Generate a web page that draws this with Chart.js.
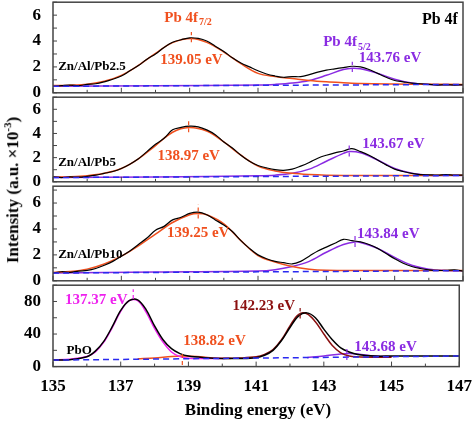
<!DOCTYPE html>
<html>
<head>
<meta charset="utf-8">
<script src="https://cdn.jsdelivr.net/npm/chart.js@4.4.0/dist/chart.umd.min.js"></script>
<style>
  body { margin: 0; background: #fff; width: 474px; height: 423px; position: relative; overflow: hidden; font-family: "Liberation Serif", serif; }
  canvas { position: absolute; left: 0; }
  #ytitle { position: absolute; left: 12px; top: 190px; transform: translate(-50%, -50%) rotate(-90deg); font-weight: bold; font-size: 17px; white-space: nowrap; }
  #xtitle { position: absolute; left: 258px; top: 400px; transform: translateX(-50%); font-weight: bold; font-size: 17px; white-space: nowrap; }
</style>
</head>
<body>
<canvas id="p1"></canvas>
<canvas id="p2"></canvas>
<canvas id="p3"></canvas>
<canvas id="p4"></canvas>
<div id="ytitle">Intensity (a.u. ×10<sup style="font-size:11px">-3</sup>)</div>
<div id="xtitle">Binding energy (eV)</div>
<script>
// binding energy grid for the measured spectra
const energyFine = [135,135.25,135.5,135.75,136,136.25,136.5,136.75,137,137.25,137.5,137.75,138,138.25,138.5,138.75,139,139.25,139.5,139.75,140,140.25,140.5,140.75,141,141.25,141.5,141.75,142,142.25,142.5,142.75,143,143.25,143.5,143.75,144,144.25,144.5,144.75,145,145.25,145.5,145.75,146,146.25,146.5,146.75,147];

// Zn/Al/Pb2.5
const rawPb25 = [0.5,0.55,0.6,0.55,0.65,0.7,0.85,1.05,1.3,1.7,2.1,2.6,3.0,3.5,3.9,4.1,4.25,4.2,4.0,3.6,3.2,2.7,2.3,2.0,1.7,1.45,1.3,1.2,1.25,1.25,1.4,1.6,1.75,1.85,1.95,2.05,2.0,1.8,1.5,1.2,0.95,0.85,0.75,0.7,0.65,0.6,0.62,0.6,0.62];
const fit72Pb25 = [[135,0.56],[135.5,0.59],[136,0.67],[136.5,0.89],[137,1.35],[137.5,2.12],[138,3.05],[138.5,3.88],[139.05,4.2],[139.5,3.9],[140,3.15],[140.5,2.25],[141,1.5],[141.5,1.25],[142,1.1],[142.5,0.95],[143,0.85],[143.5,0.78],[144,0.72],[145,0.68],[146,0.66],[147,0.65]];
const fit52Pb25 = [[135,0.5],[138,0.54],[141,0.6],[141.5,0.65],[142,0.75],[142.5,0.95],[143,1.35],[143.5,1.8],[143.76,1.9],[144,1.85],[144.5,1.5],[145,1.05],[145.5,0.75],[146,0.65],[146.5,0.62],[147,0.62]];
const basePb25 = [[135,0.5],[147,0.65]];

// Zn/Al/Pb5
const rawPb5 = [0.4,0.35,0.4,0.38,0.45,0.55,0.7,0.85,1.1,1.45,1.9,2.5,3.1,3.6,4.3,4.5,4.6,4.55,4.3,3.9,3.3,2.8,2.2,1.7,1.35,1.15,1.0,0.95,1.05,1.3,1.6,1.95,2.2,2.4,2.55,2.75,2.5,2.2,1.8,1.4,1.05,0.85,0.7,0.6,0.58,0.55,0.6,0.55,0.55];
const fit72Pb5 = [[135,0.4],[135.5,0.42],[136,0.5],[136.5,0.7],[137,1.1],[137.5,1.9],[138,3.0],[138.5,4.1],[138.97,4.5],[139.5,4.2],[140,3.3],[140.5,2.2],[141,1.3],[141.5,0.9],[142,0.7],[142.5,0.6],[143,0.55],[144,0.52],[145,0.52],[146,0.53],[147,0.55]];
const fit52Pb5 = [[135,0.35],[138,0.4],[141,0.5],[141.5,0.55],[142,0.7],[142.5,1.05],[143,1.7],[143.5,2.35],[143.67,2.5],[144,2.4],[144.5,1.8],[145,1.1],[145.5,0.7],[146,0.55],[146.5,0.52],[147,0.52]];
const basePb5 = [[135,0.35],[147,0.52]];

// Zn/Al/Pb10
const rawPb10 = [0.6,0.7,0.65,0.75,0.8,0.95,1.2,1.5,1.9,2.3,2.8,3.3,3.9,4.2,4.7,4.9,5.2,5.3,5.1,4.7,4.3,3.8,3.1,2.5,2.0,1.7,1.5,1.4,1.3,1.5,1.9,2.3,2.6,2.9,3.2,3.1,3.0,2.8,2.5,2.1,1.7,1.35,1.1,0.95,0.85,0.8,0.8,0.85,0.75];
const fit72Pb10 = [[135,0.65],[135.5,0.72],[136,0.9],[136.5,1.3],[137,1.9],[137.5,2.7],[138,3.6],[138.5,4.5],[139,5.1],[139.25,5.2],[139.5,5.1],[140,4.4],[140.5,3.1],[141,1.95],[141.5,1.45],[142,1.1],[142.5,0.9],[143,0.82],[144,0.8],[145,0.8],[146,0.8],[147,0.8]];
const fit52Pb10 = [[135,0.6],[138,0.67],[141,0.75],[141.5,0.85],[142,1.1],[142.5,1.5],[143,2.2],[143.5,2.8],[143.84,3.0],[144,2.95],[144.5,2.5],[145,1.8],[145.5,1.2],[146,0.9],[146.5,0.8],[147,0.78]];
const basePb10 = [[135,0.6],[147,0.78]];

// PbO
const rawPbO = [[135,8],[135.5,8.5],[136,12],[136.25,19],[136.5,31],[136.75,49],[137,69],[137.25,81],[137.5,82],[137.75,70],[138,50],[138.25,33],[138.5,22],[138.75,16],[139,13],[139.5,11],[140,10],[140.5,10],[141,11],[141.25,14],[141.5,20],[141.75,32],[142,48],[142.25,62],[142.5,66],[142.75,60],[143,46],[143.25,33],[143.5,23],[143.75,18],[144,15],[144.5,13],[145,13],[146,13],[147,13]];
const fitPbO1 = [[135,8.5],[135.5,9],[136,12.3],[136.25,18],[136.5,30],[136.75,48],[137,68],[137.25,81],[137.5,81],[137.75,67],[138,47],[138.25,30],[138.5,18],[138.75,12.2],[139,10.3],[139.5,10],[140,10]];
const fitPbO2 = [[137.5,9.5],[138,10.5],[138.5,12.5],[138.82,13],[139.25,12.5],[139.75,10.5],[140.25,10]];
const fitPbO3 = [[140,10],[140.5,10.5],[141,12],[141.25,15],[141.5,21],[141.75,33],[142,50],[142.25,64],[142.5,65],[142.75,55],[143,40],[143.25,26],[143.5,17],[143.75,13],[144,12],[144.5,11.5],[145,11.5]];
const fitPbO4 = [[142.5,11],[143,13],[143.5,15.5],[143.75,16],[144,15.5],[144.5,13],[145,12]];
const basePbO = [[135,8],[147,13]];

const xTicks = [135,137,139,141,143,145,147];

const ORANGE = '#f0501e', PURPLE = '#8a2be2', BLUE = '#2a2af0', MAGENTA = '#ee22ee', DARKRED = '#8b1010';
const labelFont = 'bold 15px "Liberation Serif"';
const PAD = 12;

function pairs(arr) { return arr.map(p => ({ x: p[0], y: p[1] })); }
function fine(ys) { return ys.map((y, i) => ({ x: energyFine[i], y: y })); }

function line(data, color, width, dash) {
    return { data: data, borderColor: color, borderWidth: width, borderDash: dash || [], pointRadius: 0, tension: 0.35, fill: false };
}

// frame, inward ticks, peak marks and labels
const decor = {
    id: 'decor',
    afterDatasetsDraw(chart, args, opts) {
        const { ctx, chartArea: a, scales: { x, y } } = chart;
        ctx.save();
        ctx.strokeStyle = '#444';
        ctx.lineWidth = 1.5;
        ctx.strokeRect(a.left, a.top, a.right - a.left, a.bottom - a.top);
        ctx.lineWidth = 1;
        for (let e = 135; e <= 147; e++) {
            const px = x.getPixelForValue(e);
            const len = e % 2 ? 5 : 3;
            ctx.beginPath(); ctx.moveTo(px, a.bottom); ctx.lineTo(px, a.bottom - len); ctx.stroke();
        }
        for (let v = 0; v <= y.max; v += opts.yMinor) {
            const py = y.getPixelForValue(v);
            ctx.beginPath(); ctx.moveTo(a.left, py); ctx.lineTo(a.left + 4, py); ctx.stroke();
        }
        (opts.marks || []).forEach(m => {
            const px = x.getPixelForValue(m.x);
            ctx.strokeStyle = m.color; ctx.lineWidth = 1.2; ctx.setLineDash([4, 3]);
            ctx.beginPath(); ctx.moveTo(px, y.getPixelForValue(m.y0)); ctx.lineTo(px, y.getPixelForValue(m.y1)); ctx.stroke();
            ctx.setLineDash([]);
        });
        (opts.labels || []).forEach(l => {
            const px = x.getPixelForValue(l.x);
            const py = y.getPixelForValue(l.y);
            ctx.fillStyle = l.color || '#000';
            ctx.font = l.font || labelFont;
            ctx.textAlign = l.align || 'center';
            ctx.textBaseline = 'middle';
            ctx.fillText(l.text, px, py);
            if (l.sub) {
                const w = ctx.measureText(l.text).width;
                const start = l.align === 'left' ? px + w : px + w / 2;
                ctx.font = 'bold 10px "Liberation Serif"';
                ctx.textAlign = 'left';
                ctx.fillText(l.sub, start + 1, py + 5);
            }
        });
        ctx.restore();
    }
};

// panelTop/panelHeight give the plot box in page pixels
function makePanel(id, panelTop, panelHeight, yMax, yStep, datasets, deco, showX) {
    const c = document.getElementById(id);
    const bottomPad = showX ? 0 : PAD;
    const height = panelHeight + PAD + (showX ? 26 : PAD);
    c.width = 474; c.height = height;
    c.style.width = '474px'; c.style.height = height + 'px';
    c.style.top = (panelTop - PAD) + 'px';
    new Chart(c, {
        type: 'line',
        data: { datasets: datasets },
        options: {
            responsive: false, animation: false,
            layout: { padding: { top: PAD, right: 11, bottom: bottomPad, left: 0 } },
            plugins: { legend: { display: false }, tooltip: { enabled: false }, decor: deco },
            scales: {
                x: {
                    type: 'linear', min: 135, max: 147, display: showX,
                    grid: { display: false }, border: { display: false },
                    afterBuildTicks: ax => { ax.ticks = xTicks.map(v => ({ value: v })); },
                    ticks: { color: '#000', font: { family: 'Liberation Serif', weight: 'bold', size: 17 }, padding: 2, maxRotation: 0 }
                },
                y: {
                    min: 0, max: yMax,
                    grid: { display: false }, border: { display: false },
                    afterBuildTicks: ax => { const t = []; for (let v = 0; v <= yMax; v += yStep) t.push({ value: v }); ax.ticks = t; },
                    afterFit: ax => { ax.width = 53; },
                    ticks: { color: '#000', font: { family: 'Liberation Serif', weight: 'bold', size: 17 }, padding: 4 }
                }
            }
        },
        plugins: [decor]
    });
}

makePanel('p1', 0, 95, 7.0, 2, [
    line(pairs(basePb25), BLUE, 1.5, [6, 4]),
    line(fine(rawPb25), '#000', 1.2),
    line(pairs(fit72Pb25), ORANGE, 1.5),
    line(pairs(fit52Pb25), PURPLE, 1.5)
], {
    yMinor: 1,
    marks: [{ x: 139.05, y0: 3.9, y1: 4.7, color: ORANGE }, { x: 143.76, y0: 1.6, y1: 2.4, color: PURPLE }],
    labels: [
        { x: 138.75, y: 5.8, text: 'Pb 4f', sub: '7/2', color: ORANGE },
        { x: 143.4, y: 3.9, text: 'Pb 4f', sub: '5/2', color: PURPLE },
        { x: 139.05, y: 2.5, text: '139.05 eV', color: ORANGE },
        { x: 143.95, y: 2.65, text: '143.76 eV', color: PURPLE, align: 'left' },
        { x: 135.15, y: 2.0, text: 'Zn/Al/Pb2.5', align: 'left', font: 'bold 13px "Liberation Serif"' },
        { x: 146.85, y: 5.6, text: 'Pb 4f', align: 'right', font: 'bold 16px "Liberation Serif"' }
    ]
}, false);

makePanel('p2', 95, 89, 7.0, 2, [
    line(pairs(basePb5), BLUE, 1.5, [6, 4]),
    line(fine(rawPb5), '#000', 1.2),
    line(pairs(fit72Pb5), ORANGE, 1.5),
    line(pairs(fit52Pb5), PURPLE, 1.5)
], {
    yMinor: 1,
    marks: [{ x: 138.97, y0: 4.1, y1: 5.0, color: ORANGE }, { x: 143.67, y0: 2.1, y1: 3.2, color: PURPLE }],
    labels: [
        { x: 138.97, y: 2.1, text: '138.97 eV', color: ORANGE },
        { x: 144.05, y: 3.1, text: '143.67 eV', color: PURPLE, align: 'left' },
        { x: 135.15, y: 1.6, text: 'Zn/Al/Pb5', align: 'left', font: 'bold 13px "Liberation Serif"' }
    ]
}, false);

makePanel('p3', 184, 99, 7.3, 2, [
    line(pairs(basePb10), BLUE, 1.5, [6, 4]),
    line(fine(rawPb10), '#000', 1.2),
    line(pairs(fit72Pb10), ORANGE, 1.5),
    line(pairs(fit52Pb10), PURPLE, 1.5)
], {
    yMinor: 1,
    marks: [{ x: 139.25, y0: 4.8, y1: 5.9, color: ORANGE }, { x: 143.84, y0: 2.6, y1: 3.6, color: PURPLE }],
    labels: [
        { x: 139.25, y: 3.7, text: '139.25 eV', color: ORANGE },
        { x: 143.9, y: 3.6, text: '143.84 eV', color: PURPLE, align: 'left' },
        { x: 135.15, y: 2.0, text: 'Zn/Al/Pb10', align: 'left', font: 'bold 13px "Liberation Serif"' }
    ]
}, false);

makePanel('p4', 283, 90, 100, 40, [
    line(pairs(basePbO), BLUE, 1.5, [6, 4]),
    line(pairs(rawPbO), '#000', 1.5),
    line(pairs(fitPbO1), MAGENTA, 1.5),
    line(pairs(fitPbO2), ORANGE, 1.5),
    line(pairs(fitPbO3), DARKRED, 1.5),
    line(pairs(fitPbO4), PURPLE, 1.5)
], {
    yMinor: 20,
    marks: [{ x: 137.37, y0: 83, y1: 95, color: MAGENTA }, { x: 138.82, y0: 2, y1: 18, color: ORANGE },
            { x: 142.3, y0: 59, y1: 72, color: DARKRED }, { x: 143.68, y0: 8, y1: 22, color: PURPLE }],
    labels: [
        { x: 137.2, y: 82, text: '137.37 eV', color: MAGENTA, align: 'right' },
        { x: 142.15, y: 74, text: '142.23 eV', color: DARKRED, align: 'right' },
        { x: 138.85, y: 31, text: '138.82 eV', color: ORANGE, align: 'left' },
        { x: 143.9, y: 24, text: '143.68 eV', color: PURPLE, align: 'left' },
        { x: 135.4, y: 19, text: 'PbO', align: 'left', font: 'bold 13px "Liberation Serif"' }
    ]
}, true);
</script>
</body>
</html>
